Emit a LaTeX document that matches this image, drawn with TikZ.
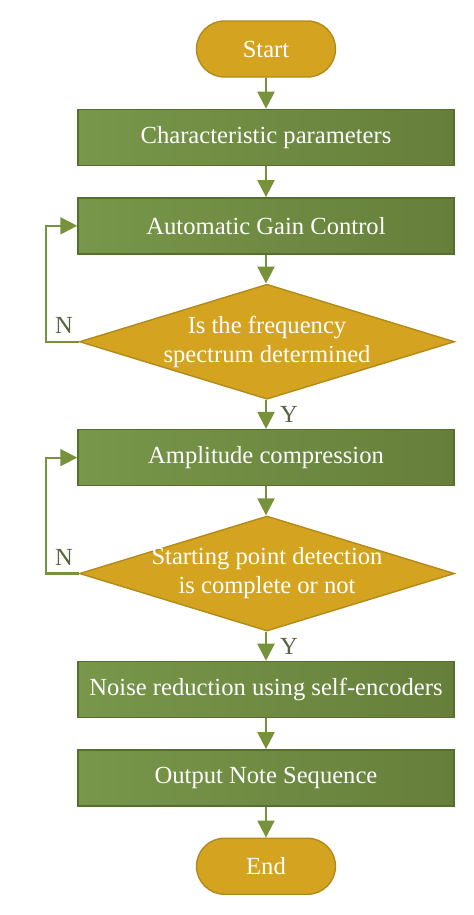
\documentclass[tikz,border=0pt]{standalone}
\usepackage{fontspec}
\setmainfont{Liberation Serif}
\usetikzlibrary{positioning,shapes.geometric,arrows.meta}
\definecolor{greenlt}{HTML}{78974A}
\definecolor{greendk}{HTML}{667F3B}
\definecolor{greenedge}{HTML}{55702E}
\definecolor{goldfill}{HTML}{D4A421}
\definecolor{goldedge}{HTML}{B38A1A}
\definecolor{flowgreen}{HTML}{76933C}
\definecolor{labgray}{HTML}{56643F}
\tikzset{
  % process box
  proc/.style  = {rectangle, draw=greenedge, line width=0.8pt,
                  left color=greenlt, right color=greendk, text=white,
                  minimum width=75.2mm, minimum height=11.2mm, inner sep=0pt,
                  font=\fontsize{14}{16.5}\selectfont},
  % start/end pill
  term/.style  = {rectangle, rounded corners=5.6mm, draw=goldedge, line width=0.8pt,
                  fill=goldfill, text=white, minimum width=27.8mm,
                  minimum height=11.2mm, font=\fontsize{14}{16.5}\selectfont},
  % decision diamond
  dec/.style   = {diamond, aspect=3.2, draw=goldedge, line width=0.8pt,
                  fill=goldfill, text=white, align=center,
                  inner xsep=-3mm, inner ysep=0pt,
                  minimum width=75mm, minimum height=23mm,
                  font=\fontsize{14}{16.5}\selectfont},
  % Y / N labels
  tag/.style   = {text=labgray, font=\fontsize{14}{16.5}\selectfont, inner sep=0pt},
  % arrows
  flow/.style  = {-{Triangle[length=3.4mm, width=3.4mm]}, line width=1.2pt, flowgreen},
}
\begin{document}
\begin{tikzpicture}[node distance=6.2mm]

  \useasboundingbox (-53.2mm,9.8mm) rectangle (41.6mm,-173.2mm);

  % --- main column ---
  \node[term] (start) at (0,0) {Start};
  \node[proc, below=of start] (param) {Characteristic parameters};
  \node[proc, below=of param] (agc) {Automatic Gain Control};
  \node[dec, below=5.8mm of agc, xshift=0.2mm] (freq) {Is the frequency\\spectrum determined};
  \node[proc, below=5.8mm of freq, xshift=-0.2mm] (amp) {Amplitude compression};
  \node[dec, below=5.8mm of amp, xshift=0.2mm] (onset) {Starting point detection\\is complete or not};
  \node[proc, below=5.8mm of onset, xshift=-0.2mm] (denoise) {Noise reduction using self-encoders};
  \node[proc, below=of denoise] (notes) {Output Note Sequence};
  \node[term, below=of notes] (end) {End};

  \draw[flow] (start) -- (param);
  \draw[flow] (param) -- (agc);
  \draw[flow] (agc) -- (agc|-freq.north);
  \draw[flow] (freq.south-|amp) -- node[tag, right=2.6mm] (y1) {Y} (amp);
  \draw[flow] (amp) -- (amp|-onset.north);
  \draw[flow] (onset.south-|denoise) -- node[tag, right=2.6mm] (y2) {Y} (denoise);
  \draw[flow] (denoise) -- (notes);
  \draw[flow] (notes) -- (end);

  % --- N loops back ---
  \draw[flow] (freq.west) -- ++(-6.6mm,0) coordinate (n1) |- (agc.west);
  \draw[flow] (onset.west) -- ++(-6.6mm,0) coordinate (n2) |- (amp.west);
  \node[tag, above right=1.6mm and 1.8mm of n1, anchor=south west] (nlab1) {N};
  \node[tag, above right=1.6mm and 1.8mm of n2, anchor=south west] (nlab2) {N};

\end{tikzpicture}
\end{document}
